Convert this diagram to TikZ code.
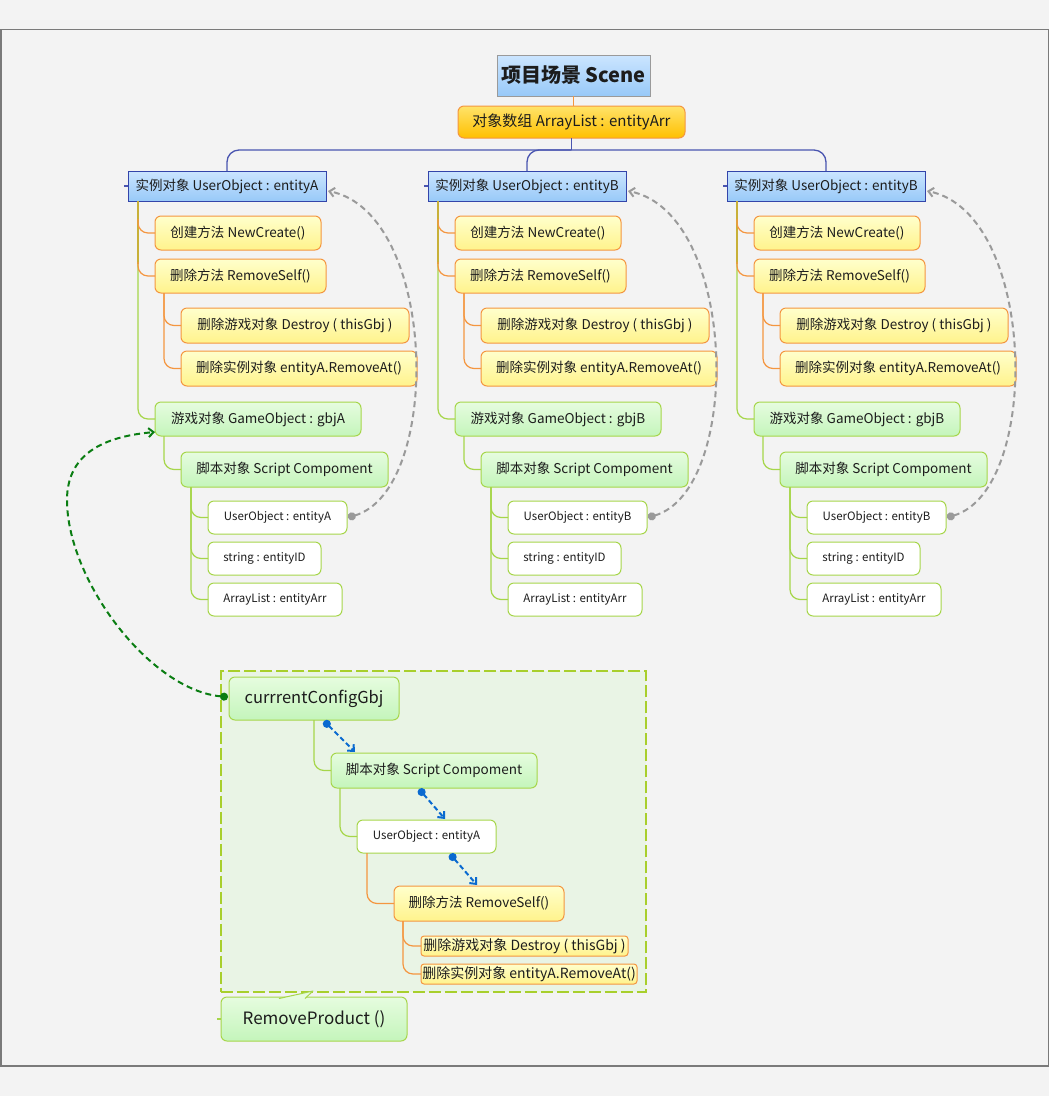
\documentclass[tikz,border=0pt]{standalone}
\usepackage{fontspec}
\setmainfont{Noto Sans CJK SC}
\usetikzlibrary{arrows.meta,calc}
\newcommand{\fsz}[1]{\fontsize{#1}{#1}\selectfont}
\definecolor{bgc}{HTML}{F3F3F3}
\definecolor{framec}{HTML}{7A7A7A}
\definecolor{txt}{HTML}{1C1C1C}
\definecolor{blueT}{HTML}{CBE5FF}
\definecolor{blueB}{HTML}{98C9F8}
\definecolor{entB}{HTML}{3344AA}
\definecolor{yelT}{HTML}{FFFFCC}
\definecolor{yelB}{HTML}{FFF38C}
\definecolor{orB}{HTML}{F49640}
\definecolor{alT}{HTML}{FFE36A}
\definecolor{alB}{HTML}{FFC000}
\definecolor{grnT}{HTML}{E6FCDF}
\definecolor{grnB}{HTML}{C4F5BB}
\definecolor{grB}{HTML}{A6D64A}
\definecolor{olv}{HTML}{C8B038}
\definecolor{treec}{HTML}{4A55B0}
\definecolor{grayd}{HTML}{9A9A9A}
\definecolor{darkg}{HTML}{0A7D12}
\definecolor{blued}{HTML}{0A6AD0}
\definecolor{grpfill}{HTML}{E9F4E5}
\definecolor{grpB}{HTML}{A8CF2C}
\tikzset{
  base/.style={inner sep=0pt, outer sep=0pt, anchor=north west, font=\fsz{13.5}, text=txt},
  titlebox/.style={base, draw=grayd, line width=1pt, top color=blueT, bottom color=blueB, font=\fsz{20}\bfseries},
  albox/.style={base, draw=orB, line width=1pt, rounded corners=6pt, top color=alT, bottom color=alB, font=\fsz{15}},
  entbox/.style={base, draw=entB, line width=1pt, top color=blueT, bottom color=blueB},
  ybox/.style={base, draw=orB, line width=1pt, rounded corners=6pt, top color=yelT, bottom color=yelB},
  sybox/.style={base, draw=orB, line width=1pt, rounded corners=3pt, top color=yelT, bottom color=yelB, font=\fsz{14}},
  gbox/.style={base, draw=grB, line width=1pt, rounded corners=6pt, top color=grnT, bottom color=grnB},
  wbox/.style={base, draw=grB, line width=1pt, rounded corners=6pt, fill=white, font=\fsz{11.5}},
  grpbox/.style={base, draw=grpB, line width=2.2pt, fill=grpfill, dash pattern=on 12pt off 4pt},
  grl/.style={draw=grB, line width=1.2pt, rounded corners=10pt},
  orl/.style={draw=orB, line width=1.2pt, rounded corners=10pt},
  olvl/.style={draw=olv, line width=1.2pt},
  treel/.style={draw=treec, line width=1.3pt, rounded corners=12pt},
  graydash/.style={draw=grayd, line width=2pt, dash pattern=on 6pt off 4pt,
     {Circle[length=8pt]}-{Straight Barb[length=5pt,width=9pt]}},
  greendash/.style={draw=darkg, line width=2pt, dash pattern=on 6pt off 4pt,
     {Circle[length=8pt]}-{Straight Barb[length=5pt,width=9pt]}},
  bluedash/.style={draw=blued, line width=2pt, dash pattern=on 5pt off 3pt,
     {Circle[length=8pt]}-{Straight Barb[length=5pt,width=9pt]}},
}
\begin{document}
\begin{tikzpicture}[x=1pt,y=-1pt]
\fill[bgc] (0,0) rectangle (1049,1096);
\draw[framec, line width=1.5pt] (0.75,29.5) rectangle (1048.25,1066);

% top
\node[titlebox, minimum width=153, minimum height=41] (title) at (497,55) {项目场景 Scene};
\node[albox, minimum width=227, minimum height=32] (al) at (458,106) {对象数组 ArrayList : entityArr};
\draw[orB, line width=1.2pt] (title.south) -- (title.south |- al.north);
\coordinate (hub) at ($(al.south)+(0,12)$);

\foreach \c/\x/\ent/\gbj in {A/128/entityA/gbjA,B/428/entityB/gbjB,C/727/entityB/gbjB}{
  \node[entbox, minimum width=198, minimum height=30] (\c-ent) at (\x,171) {实例对象 UserObject : \ent};
  \node[ybox, minimum width=166, minimum height=34] (\c-nc) at (\x+27,216) {创建方法 NewCreate()};
  \node[ybox, minimum width=171, minimum height=34] (\c-rs) at (\x+27,259) {删除方法 RemoveSelf()};
  \node[ybox, minimum width=228, minimum height=35] (\c-ds) at (\x+53,308) {删除游戏对象 Destroy ( thisGbj )};
  \node[ybox, minimum width=236, minimum height=35] (\c-ra) at (\x+53,351) {删除实例对象 entityA.RemoveAt()};
  \node[gbox, minimum width=206, minimum height=34] (\c-go) at (\x+27,402) {游戏对象 GameObject : \gbj};
  \node[gbox, minimum width=207, minimum height=35] (\c-sc) at (\x+53,452) {脚本对象 Script Compoment};
  \node[wbox, minimum width=139, minimum height=33] (\c-uo) at (\x+80,501) {UserObject : \ent};
  \node[wbox, minimum width=113, minimum height=33] (\c-st) at (\x+80,542) {string : entityID};
  \node[wbox, minimum width=134, minimum height=33] (\c-al) at (\x+80,583) {ArrayList : entityArr};
  % tree from hub
  \draw[treel] (hub) -| (\c-ent.north);
  \draw[treec, line width=1.3pt] ([xshift=-4]\c-ent.west) -- (\c-ent.west);
  % stems
  \coordinate (\c-s0) at ([xshift=10]\c-ent.south west);
  \draw[grl] (\c-s0) |- (\c-go.west);
  \draw[olvl] (\c-s0) -- ($(\c-s0 |- \c-rs.west)+(0,-12)$);
  \draw[orl] ($(\c-s0 |- \c-nc.west)+(0,-14)$) |- (\c-nc.west);
  \draw[orl] ($(\c-s0 |- \c-rs.west)+(0,-14)$) |- (\c-rs.west);
  \coordinate (\c-s1) at ([xshift=9]\c-rs.south west);
  \draw[orl] (\c-s1) |- (\c-ds.west);
  \draw[orl] (\c-s1) |- (\c-ra.west);
  \coordinate (\c-s2) at ([xshift=9]\c-go.south west);
  \draw[grl] (\c-s2) |- (\c-sc.west);
  \coordinate (\c-s3) at ([xshift=10]\c-sc.south west);
  \draw[grl] (\c-s3) |- (\c-uo.west);
  \draw[grl] (\c-s3) |- (\c-st.west);
  \draw[grl] (\c-s3) |- (\c-al.west);
  % gray dashed reference
  \draw[graydash] ([xshift=1]\c-uo.east) .. controls +(95,-28) and +(110,22) .. ([xshift=2,yshift=-5]\c-ent.east);
}
\draw[treec, line width=1.3pt] (al.south) -- (hub);

% group
\node[grpbox, minimum width=425, minimum height=321] (grp) at (221,671) {};
\node[gbox, minimum width=170, minimum height=43, font=\fsz{16.5}] (cfg) at (229,677) {currrentConfigGbj};
\node[gbox, minimum width=206, minimum height=35] (gsc) at (331,753) {脚本对象 Script Compoment};
\node[wbox, minimum width=139, minimum height=33] (guo) at (357,820) {UserObject : entityA};
\node[ybox, minimum width=170, minimum height=35] (grs) at (394,886) {删除方法 RemoveSelf()};
\node[sybox, minimum width=207, minimum height=20] (gds) at (421,936) {删除游戏对象 Destroy ( thisGbj )};
\node[sybox, minimum width=216, minimum height=20] (gra) at (421,964) {删除实例对象 entityA.RemoveAt()};
\draw[grl] (cfg.south) |- (gsc.west);
\draw[grl] ([xshift=9]gsc.south west) |- (guo.west);
\draw[orl] ([xshift=10]guo.south west) |- (grs.west);
\draw[orl] ([xshift=9]grs.south west) |- (gds.west);
\draw[orl] ([xshift=9]grs.south west) |- (gra.west);
\draw[bluedash] ([xshift=95,yshift=-1]cfg.south west) -- ([xshift=24,yshift=1]gsc.north west);
\draw[bluedash] ([xshift=88,yshift=-1]gsc.south west) -- ([xshift=88,yshift=1]guo.north west);
\draw[bluedash] ([xshift=93,yshift=-1]guo.south west) -- ([xshift=83,yshift=1]grs.north west);

% green dashed link
\coordinate (gbend) at (67,500);
\draw[greendash] ([xshift=-1,yshift=1.5]cfg.west) .. controls +(-78,-7) and +(0,80) .. (gbend)
   .. controls +(0,-50) and +(-45,4) .. ([yshift=4]A-go.south west);

% RemoveProduct callout
\node[gbox, minimum width=186, minimum height=44, font=\fsz{17}] (rp) at (221,997) {RemoveProduct ()};
\draw[grB, fill=grnT, line width=1pt, line join=round] ([xshift=58,yshift=-1.5]rp.north west) -- ($(rp.north west)+(92,-6)$) -- ([xshift=84,yshift=-1.5]rp.north west);
\draw[grB, line width=1.2pt] ([xshift=-4]rp.west) -- (rp.west);
\end{tikzpicture}
\end{document}
